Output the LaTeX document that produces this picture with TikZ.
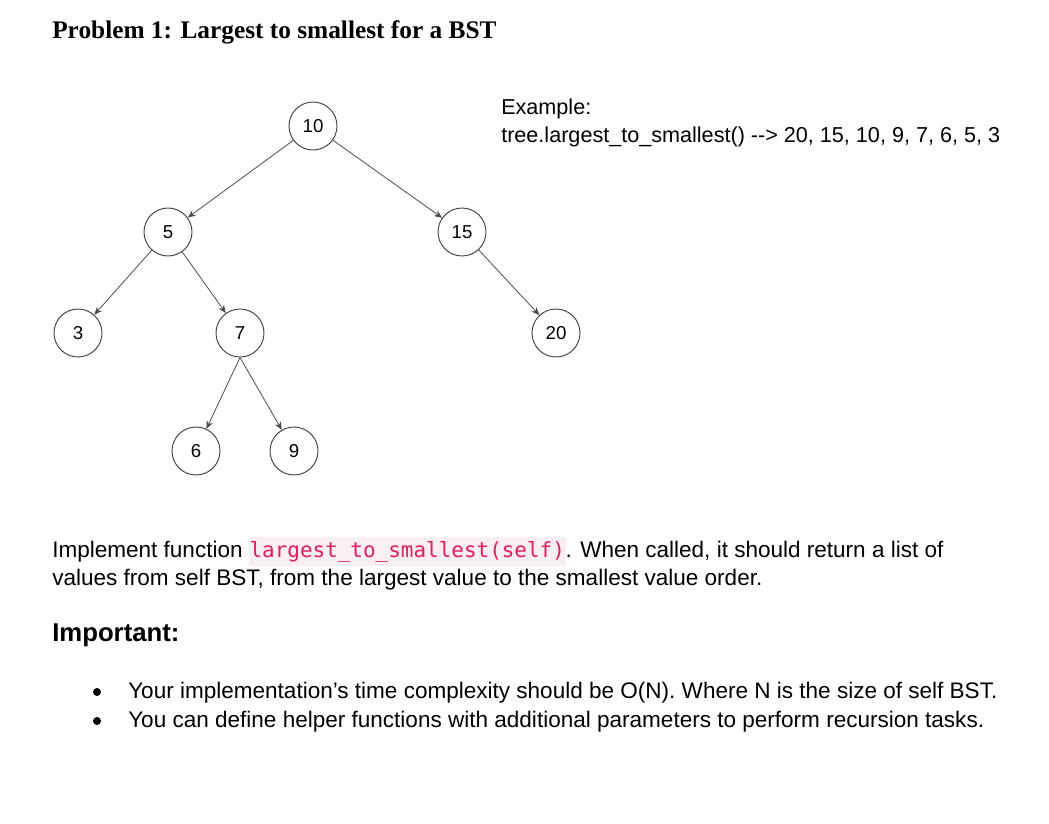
\documentclass[tikz,border=0pt]{standalone}
\usepackage{fontspec}
\setmainfont{Liberation Sans}
\newfontfamily\timesf{Liberation Serif}
\newfontfamily\codef[Scale=0.93]{DejaVu Sans Mono}
\usetikzlibrary{arrows.meta}
\definecolor{codecol}{HTML}{E01E5A}
\definecolor{codebg}{HTML}{F9EEF1}
\tikzset{
 tn/.style={circle,draw=black!75,line width=0.7pt,minimum size=36pt,inner sep=0pt,font=\fontsize{14}{16}\selectfont},
 ed/.style={draw=black!70,line width=0.6pt,-{Stealth[length=6pt,width=5pt]}},
 body/.style={anchor=base west,inner sep=0pt,font=\fontsize{16.9}{19}\selectfont}
}
\begin{document}
\begin{tikzpicture}[x=0.75pt,y=-0.75pt]
\useasboundingbox (0,0) rectangle (1049,824);
\node[anchor=base west,inner sep=0pt,font=\timesf\bfseries\fontsize{19}{21}\selectfont] (title) at (52,39) {Problem 1: Largest to smallest for a BST};
\node[tn] (n10) at (313,126) {10};
\node[tn] (n5) at (168,232) {5};
\node[tn] (n15) at (462,232) {15};
\node[tn] (n3) at (78,333) {3};
\node[tn] (n7) at (240,333) {7};
\node[tn] (n20) at (556,333) {20};
\node[tn] (n6) at (196,451) {6};
\node[tn] (n9) at (294,451) {9};
\draw[ed] (n10) -- (n5);
\draw[ed] (n10) -- (n15);
\draw[ed] (n5) -- (n3);
\draw[ed] (n5) -- (n7);
\draw[ed] (n15) -- (n20);
\draw[ed] (n7.south) -- (n6);
\draw[ed] (n7.south) -- (n9);
\node[anchor=north west,inner sep=0pt,align=left,font=\fontsize{16.2}{20.5}\selectfont] (ex) at (501,99) {Example:\\tree.largest\_to\_smallest() -{}-> 20, 15, 10, 9, 7, 6, 5, 3};
\node[body] (l1) at (52,557) {Implement function \colorbox{codebg}{\hspace{-2.5pt}\codef\color{codecol}largest\_to\_smallest(self)\hspace{-2.5pt}}. When called, it should return a list of};
\node[body] (l2) at (52,585) {values from self BST, from the largest value to the smallest value order.};
\node[body,font=\bfseries\fontsize{19.3}{22}\selectfont] (imp) at (52,641) {Important:};
\node[circle,fill=black,inner sep=0pt,minimum size=6pt] (b1) at (97,692) {};
\node[circle,fill=black,inner sep=0pt,minimum size=6pt] (b2) at (97,721) {};
\node[body] (t1) at (128,698) {Your implementation’s time complexity should be O(N). Where N is the size of self BST.};
\node[body] (t2) at (128,727) {You can define helper functions with additional parameters to perform recursion tasks.};
\end{tikzpicture}
\end{document}
